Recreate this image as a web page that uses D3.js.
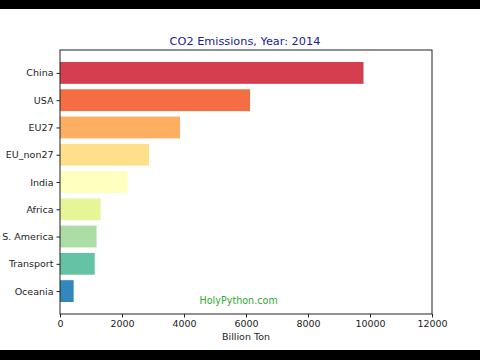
<!DOCTYPE html>
<html>
<head>
<meta charset="utf-8">
<script src="https://cdn.jsdelivr.net/npm/d3@7"></script>
<style>
  html, body { margin: 0; padding: 0; background: #000; }
  svg { display: block; }
  text { font-family: "DejaVu Sans", sans-serif; }
</style>
</head>
<body>
<svg id="chart" width="480" height="360"></svg>
<script>
const categories = ["China", "USA", "EU27", "EU_non27", "India", "Africa", "S. America", "Transport", "Oceania"];
const values = [9790, 6130, 3870, 2870, 2180, 1310, 1180, 1120, 440];
const colors = ["#d53e4f", "#f46d43", "#fdae61", "#fee08b", "#ffffbf", "#e6f598", "#abdda4", "#66c2a5", "#3288bd"];
const xTicks = [0, 2000, 4000, 6000, 8000, 10000, 12000];
const titleText = "CO2 Emissions, Year: 2014";
const xLabel = "Billion Ton";
const watermark = "HolyPython.com";

(function () {
const svg = d3.select("#chart");
svg.append("rect").attr("x", 0).attr("y", 9).attr("width", 480).attr("height", 341).attr("fill", "#fff");

const mL = 60, mR = 432, mT = 50, mB = 314;

const x = d3.scaleLinear().domain([0, 12000]).range([mL, mR]);
const y = d3.scaleLinear().domain([-0.84, categories.length - 1 + 0.84]).range([mT, mB]);
const bh = y(0.4) - y(-0.4);

svg.append("g").selectAll("rect").data(categories).join("rect")
  .attr("x", x(0))
  .attr("y", (d, i) => y(i - 0.4))
  .attr("width", (d, i) => x(values[i]) - x(0))
  .attr("height", bh)
  .attr("fill", (d, i) => colors[i]);

svg.append("rect").attr("x", mL).attr("y", mT).attr("width", mR - mL).attr("height", mB - mT)
  .attr("fill", "none").attr("stroke", "#222").attr("stroke-width", 1);

const xAxis = d3.axisBottom(x).tickValues(xTicks).tickSize(3.5).tickPadding(3).tickFormat(d3.format("d"));
const gx = svg.append("g").attr("transform", `translate(0,${mB})`).call(xAxis);
gx.select(".domain").remove();
gx.selectAll("text").attr("font-size", 9.5).attr("fill", "#222").attr("font-family", "DejaVu Sans");
gx.selectAll("line").attr("stroke", "#222");

const yPos = d3.scaleOrdinal().domain(categories).range(categories.map((d, i) => y(i)));
const yAxis = d3.axisLeft(yPos).tickSize(3.5).tickPadding(3);
const gy = svg.append("g").attr("transform", `translate(${mL},0)`).call(yAxis);
gy.select(".domain").remove();
gy.selectAll("text").attr("font-size", 9.5).attr("fill", "#222").attr("font-family", "DejaVu Sans");
gy.selectAll("line").attr("stroke", "#222");

svg.append("text").attr("x", (mL + mR) / 2 - 1).attr("y", 45).attr("text-anchor", "middle")
  .attr("font-size", 11.3).attr("fill", "#1a1a9a").text(titleText);

svg.append("text").attr("x", (mL + mR) / 2).attr("y", 340).attr("text-anchor", "middle")
  .attr("font-size", 9.5).attr("fill", "#222").text(xLabel);

svg.append("text").attr("x", x(4500)).attr("y", y(8.47)).attr("text-anchor", "start")
  .attr("font-size", 9.6).attr("fill", "#33a833").text(watermark);
})();
</script>
</body>
</html>
